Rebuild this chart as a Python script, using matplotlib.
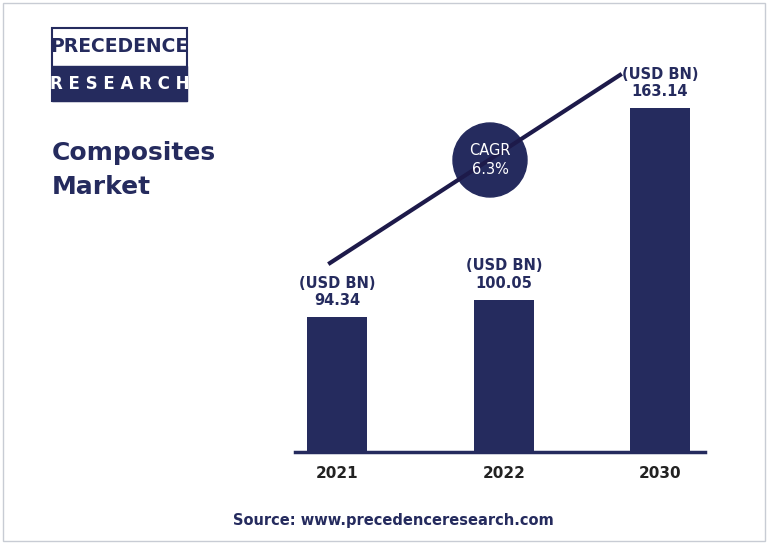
import matplotlib.pyplot as plt
from matplotlib.patches import Rectangle, Circle
import matplotlib.lines as mlines

years = ["2021", "2022", "2030"]
values = [94.34, 100.05, 163.14]
labels = ["(USD BN)\n94.34", "(USD BN)\n100.05", "(USD BN)\n163.14"]
navy = "#252b5e"
W, H = 768, 544
fig = plt.figure(figsize=(W/100, H/100), dpi=100)
fig.patch.set_facecolor("white")
def fx(x): return x/W
def fy(y): return 1-y/H
fig.add_artist(Rectangle((fx(3), fy(541)), 762/W, 538/H, transform=fig.transFigure, fill=False, ec="#c8ccd4", lw=1))

ax = fig.add_axes([fx(295), fy(452), fx(705)-fx(295), (452-60)/H])
pos = [0, 1, 1.93]
base = 50
ax.bar(pos, [v-base for v in values], bottom=base, width=0.36, color=navy)
ax.set_xlim(-0.25, 2.2)
ax.set_ylim(base, base + 392/3.04)
for s in ["top", "right", "left"]:
    ax.spines[s].set_visible(False)
ax.spines["bottom"].set_color(navy); ax.spines["bottom"].set_linewidth(2.5)
ax.set_yticks([])
ax.set_xticks(pos, years)
ax.tick_params(axis="x", length=0, pad=10, labelsize=11, labelcolor="#222")
for l in ax.get_xticklabels(): l.set_fontweight("bold")
for p, v, t in zip(pos, values, labels):
    ax.text(p, v+3, t, ha="center", va="bottom", fontsize=10.5, fontweight="bold", color=navy, linespacing=1.2)

fig.add_artist(mlines.Line2D([fx(330), fx(620)], [fy(263), fy(75)], color="#1d1a4a", lw=3, transform=fig.transFigure))
fig.add_artist(Circle((490, H-160), 37, transform=None, color=navy))
fig.text(fx(490), fy(160), "CAGR\n6.3%", ha="center", va="center", color="white", fontsize=10.5, linespacing=1.3)

fig.add_artist(Rectangle((fx(52), fy(101)), (187-52)/W, (101-28)/H, transform=fig.transFigure, fill=False, ec=navy, lw=1.5))
fig.add_artist(Rectangle((fx(52), fy(101)), (187-52)/W, (101-66)/H, transform=fig.transFigure, color=navy))
fig.text(fx(119.5), fy(47), "PRECEDENCE", ha="center", va="center", color=navy, fontsize=13.5, fontweight="bold")
fig.text(fx(119.5), fy(84), "R E S E A R C H", ha="center", va="center", color="white", fontsize=12, fontweight="bold")

fig.text(fx(52), fy(170), "Composites\nMarket", ha="left", va="center", color=navy, fontsize=18, fontweight="bold", linespacing=1.5)
fig.text(fx(393), fy(520), "Source: www.precedenceresearch.com", ha="center", va="center", color=navy, fontsize=10.5, fontweight="bold")
fig.savefig("out.png", dpi=100)
